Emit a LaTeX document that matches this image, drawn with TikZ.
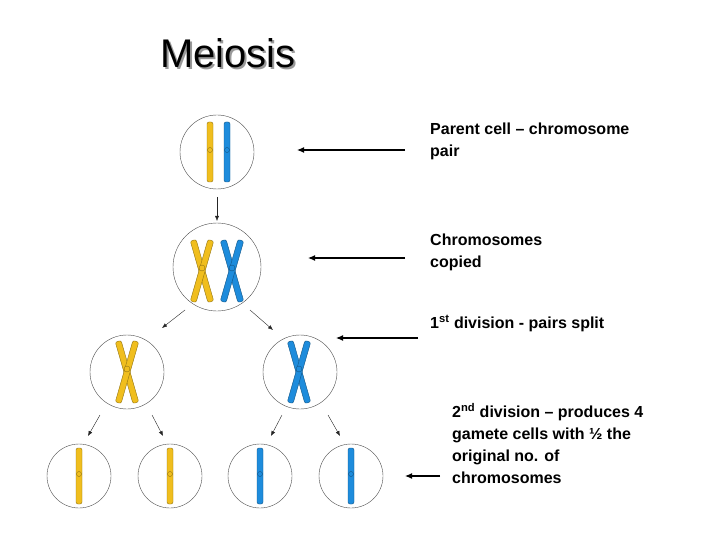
\documentclass[tikz,border=0pt]{standalone}
\usepackage{fontspec}
\setmainfont{Liberation Sans}
\usetikzlibrary{arrows.meta}
\definecolor{chromY}{RGB}{240,190,30}
\definecolor{chromB}{RGB}{30,140,220}
\tikzset{
  cell/.style={circle, draw=black!70, thin, inner sep=0pt},
  lbl/.style={anchor=north west, align=left, font=\fontsize{16}{22}\selectfont\bfseries, inner sep=0pt},
  pointer/.style={-{Latex[length=7pt,width=6pt]}, line width=1.1pt},
  divarrow/.style={-{Latex[length=5pt,width=4pt]}, thin, black!85},
}
% single chromatid: centre, length, colour
\newcommand{\chrom}[3]{%
  \begin{scope}[shift={#1}]
    \draw[fill=#3, draw=#3!60!black, rounded corners=2pt, thin]
      (-3,-#2/2) rectangle (3,#2/2);
    \draw[#3!60!black, thin] (0,-2) circle (2.5);
  \end{scope}}
% copied chromosome (X shape)
\newcommand{\chromX}[2]{%
  \begin{scope}[shift={#1}]
    \draw[fill=#2, draw=#2!60!black, thin, rotate=16, rounded corners=2pt] (-3,-32) rectangle (3,32);
    \draw[fill=#2, draw=#2!60!black, thin, rotate=-16, rounded corners=2pt] (-3,-32) rectangle (3,32);
    \draw[fill=#2, draw=#2!60!black, thin] (0,-3) circle (3);
  \end{scope}}
\begin{document}
\begin{tikzpicture}[x=1pt, y=-1pt]
  \useasboundingbox (0,0) rectangle (720,540);
  % title
  \node (title) [font=\fontsize{40}{40}\selectfont,
    preaction={}] at (228,54) {\makebox[0pt][l]{\hspace{2pt}\raisebox{-2pt}{\textcolor{black!40}{Meiosis}}}Meiosis};
  % cells
  \node (parent) [cell, minimum size=74pt] at (217,152) {};
  \node (copied) [cell, minimum size=88pt] at (217,267) {};
  \node (left) [cell, minimum size=74pt] at (127,372) {};
  \node (right) [cell, minimum size=74pt] at (300,372) {};
  \node (g1) [cell, minimum size=64pt] at (79,476) {};
  \node (g2) [cell, minimum size=64pt] at (170,476) {};
  \node (g3) [cell, minimum size=64pt] at (260,476) {};
  \node (g4) [cell, minimum size=64pt] at (351,476) {};
  % chromosomes
  \chrom{(210,152)}{60}{chromY}
  \chrom{(227,152)}{60}{chromB}
  \chromX{(202,271)}{chromY}
  \chromX{(232,271)}{chromB}
  \chromX{(127,372)}{chromY}
  \chromX{(299,372)}{chromB}
  \chrom{(79,476)}{56}{chromY}
  \chrom{(170,476)}{56}{chromY}
  \chrom{(260,476)}{56}{chromB}
  \chrom{(351,476)}{56}{chromB}
  % small arrows between cells
  \coordinate (o1) at (217,197); \coordinate (o2) at (217,221);
  \coordinate (a1) at (185,310); \coordinate (a2) at (162,328);
  \coordinate (b1) at (250,310); \coordinate (b2) at (273,330);
  \coordinate (c1) at (100,415); \coordinate (c2) at (88,436);
  \coordinate (d1) at (152,415); \coordinate (d2) at (163,436);
  \coordinate (e1) at (282,415); \coordinate (e2) at (271,436);
  \coordinate (f1) at (328,415); \coordinate (f2) at (340,436);
  \draw[divarrow] (o1) -- (o2);
  \draw[divarrow] (a1) -- (a2);
  \draw[divarrow] (b1) -- (b2);
  \draw[divarrow] (c1) -- (c2);
  \draw[divarrow] (d1) -- (d2);
  \draw[divarrow] (e1) -- (e2);
  \draw[divarrow] (f1) -- (f2);
  % labels
  \node (t1) [lbl] at (430,123) {Parent cell -- chromosome\\pair};
  \node (t2) [lbl] at (430,234) {Chromosomes\\copied};
  \node (t3) [lbl] at (430,315) {1\textsuperscript{st} division - pairs split};
  \node (t4) [lbl] at (452,403) {2\textsuperscript{nd} division -- produces 4\\gamete cells with ½ the\\original no. of\\chromosomes};
  \coordinate (s1) at (405,150); \coordinate (r1) at (297,150);
  \coordinate (s2) at (405,258); \coordinate (r2) at (308,258);
  \coordinate (s3) at (418,338); \coordinate (r3) at (336,338);
  \coordinate (s4) at (440,476); \coordinate (r4) at (405,476);
  \draw[pointer] (s1) -- (r1);
  \draw[pointer] (s2) -- (r2);
  \draw[pointer] (s3) -- (r3);
  \draw[pointer] (s4) -- (r4);
\end{tikzpicture}
\end{document}
